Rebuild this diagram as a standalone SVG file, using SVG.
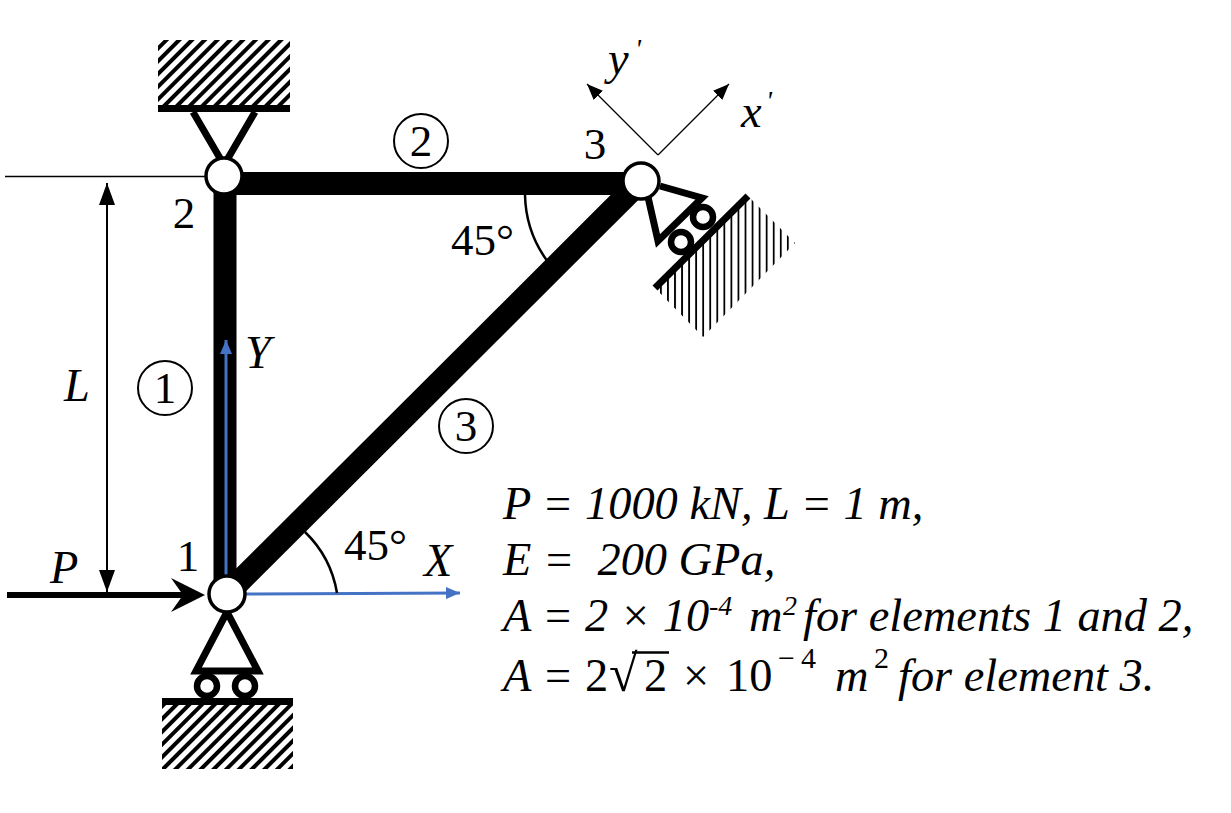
<svg xmlns="http://www.w3.org/2000/svg" width="1231" height="813" viewBox="0 0 1231 813">
<style>
text{font-family:"Liberation Serif","Times New Roman",serif;fill:#000}
.i{font-style:italic}
.l{font-size:46.400px}
.d{font-size:45px}
.n{font-size:45px;text-anchor:middle}
.s{font-size:28px}
.p{font-size:30px}
.thick{fill:none;stroke:#000;stroke-width:7}
.ring{fill:#fff;stroke:#000;stroke-width:6.500}
.pin{fill:#fff;stroke:#000;stroke-width:3.500}
.num{fill:#fff;stroke:#000;stroke-width:2}
.thin{fill:none;stroke:#000;stroke-width:1.300}
.arc{fill:none;stroke:#000;stroke-width:2.500}
.blue{fill:none;stroke:#4472c4;stroke-width:3}
</style>
<defs>
<pattern id="hatch" width="9" height="9" patternUnits="userSpaceOnUse" patternTransform="rotate(45)"><rect width="4" height="9" fill="#000"/></pattern>
<pattern id="vert" width="7.050" height="10" patternUnits="userSpaceOnUse" patternTransform="translate(660 0)"><rect width="1.800" height="10" fill="#000"/></pattern>
<marker id="ak" markerUnits="userSpaceOnUse" markerWidth="24" markerHeight="24" refX="22" refY="12" orient="auto-start-reverse" viewBox="0 0 24 24"><path d="M0 4L22 12L0 20z" fill="#000"/></marker>
<marker id="as" markerUnits="userSpaceOnUse" markerWidth="16" markerHeight="14" refX="16" refY="7" orient="auto" viewBox="0 0 16 14"><path d="M0 0.500L16 7L0 13.500z" fill="#000"/></marker>
<marker id="ab" markerUnits="userSpaceOnUse" markerWidth="14" markerHeight="12" refX="14" refY="6" orient="auto" viewBox="0 0 14 12"><path d="M0 0L14 6L0 12z" fill="#4472c4"/></marker>
</defs>

<g id="connectors">
<path d="M5 176.500H212" class="thin"/>
<path d="M107 183V592" class="thin" style="stroke-width:2" marker-start="url(#ak)" marker-end="url(#ak)"/>
<path d="M225 176V594" fill="none" stroke="#000" stroke-width="23"/>
<path d="M224 183.500H641" fill="none" stroke="#000" stroke-width="23"/>
<path d="M227 594L641 181" fill="none" stroke="#000" stroke-width="23"/>
<path d="M226 590V340" class="blue" marker-end="url(#ab)"/>
<path d="M245 594L460 593" class="blue" marker-end="url(#ab)"/>
<path d="M7 595H190" fill="none" stroke="#000" stroke-width="6"/>
<path d="M205 595L171 612L183 595L171 578z" fill="#000"/>
<path d="M658 155L587 84" class="thin" marker-end="url(#as)"/>
<path d="M658 155L729 84" class="thin" marker-end="url(#as)"/>
<path d="M525 195A116 116 0 0 0 548 262" class="arc"/>
<path d="M305 532A110 110 0 0 1 337 593" class="arc"/>
</g>

<g id="support-top">
<rect x="158" y="40" width="132" height="66" fill="url(#hatch)"/>
<rect x="158" y="105" width="132" height="7" fill="#000"/>
<path d="M193 112L224 165L255 112" class="thick"/>
</g>
<g id="support-bottom">
<path d="M227 612L196 671H258z" class="thick"/>
<circle cx="207" cy="686" r="10" class="ring"/>
<circle cx="245" cy="686" r="10" class="ring"/>
<rect x="162" y="705" width="131" height="64" fill="url(#hatch)"/>
<rect x="162" y="698" width="131" height="7" fill="#000"/>
</g>
<g id="support-right">
<path d="M655 288L748 196L795 243L703 337z" fill="url(#vert)"/>
<path d="M655 288L748 196" class="thick"/>
<path d="M648 197L658 241L702 198L660 186" class="thick"/>
<circle cx="681" cy="242" r="10" class="ring"/>
<circle cx="703" cy="217" r="10" class="ring"/>
</g>

<g id="node-1"><circle cx="227" cy="594" r="18" class="pin"/><text x="188" y="571" class="n">1</text></g>
<g id="node-2"><circle cx="224" cy="176" r="18" class="pin"/><text x="184" y="228" class="n">2</text></g>
<g id="node-3"><circle cx="641" cy="181" r="18" class="pin"/><text x="595" y="159" class="n">3</text></g>

<g id="element-1"><circle cx="165" cy="388" r="27" class="num"/><text x="165" y="403" class="n">1</text></g>
<g id="element-2"><circle cx="421" cy="141" r="27" class="num"/><text x="421" y="156" class="n">2</text></g>
<g id="element-3"><circle cx="466" cy="426" r="27" class="num"/><text x="466" y="441" class="n">3</text></g>

<g id="labels">
<text x="451" y="255" class="d">45°</text>
<text x="344" y="560" class="d">45°</text>
<text x="64" y="401" class="l i">L</text>
<text x="50" y="583" class="l i">P</text>
<text x="245" y="368" class="l i">Y</text>
<text x="424" y="576" class="l i">X</text>
<text x="608" y="74" class="l i">y</text>
<text x="635" y="58" class="s i">'</text>
<text x="741" y="127" class="l i">x</text>
<text x="766" y="110" class="s i">'</text>
</g>

<g id="parameters">
<text x="503" y="519" class="l i">P = 1000 kN, L = 1 m,</text>
<text x="503" y="575" class="l i" xml:space="preserve">E =  200 GPa,</text>
<text x="503" y="631" class="l i">A = 2 × 10</text>
<text x="709" y="615" class="s i">-4</text>
<text x="749" y="631" class="l i">m</text>
<text x="783" y="615" class="s i">2</text>
<text x="803" y="631" class="l i">for elements 1 and 2,</text>
<text x="503" y="691" class="l i">A =</text>
<text x="585" y="691" class="l">2</text>
<text x="609" y="691" class="l" style="font-size:52px">√</text>
<path d="M632 652.500H669" fill="none" stroke="#000" stroke-width="2.500"/>
<text x="644" y="691" class="l">2</text>
<text x="683" y="691" class="l">×</text>
<text x="726" y="691" class="l">10</text>
<text x="778" y="668" class="p" style="letter-spacing:6px">−4</text>
<text x="835" y="691" class="l i">m</text>
<text x="874" y="668" class="p">2</text>
<text x="898" y="691" class="l i">for element 3.</text>
</g>
</svg>
